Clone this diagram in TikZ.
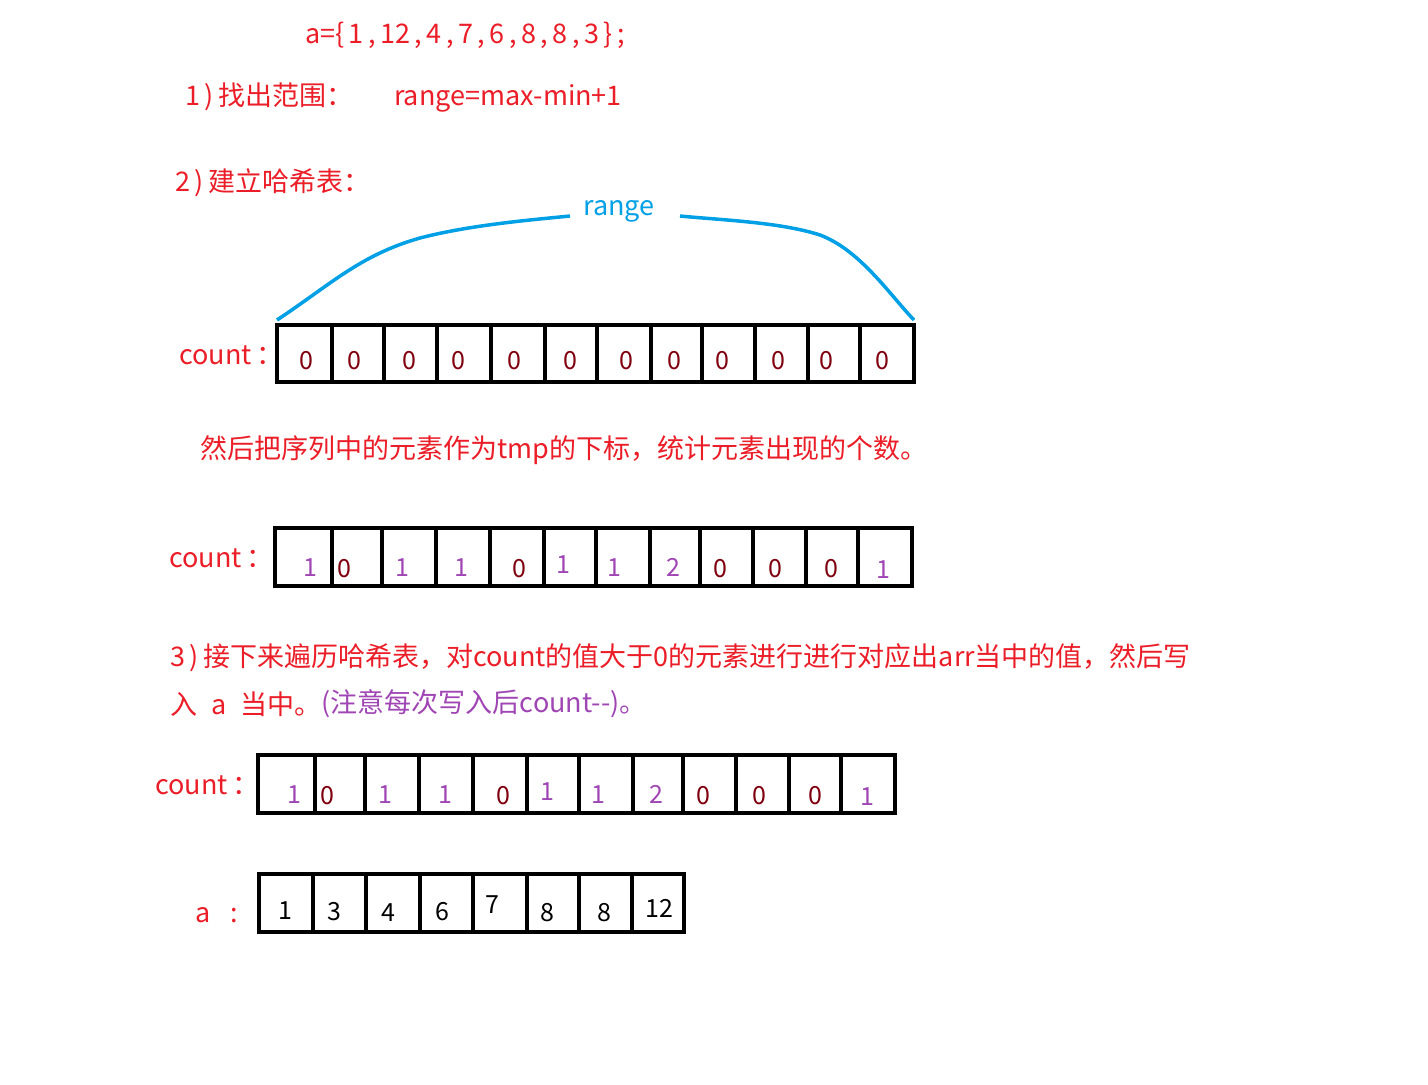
\documentclass[tikz,border=0pt]{standalone}
\usepackage{fontspec}
\setmainfont{Noto Sans CJK SC}
\begin{document}
\begin{tikzpicture}[x=1pt,y=-1pt,
  every node/.style={inner sep=0pt,font=\fontsize{25}{28}\selectfont},
  tx/.style={font=\fontsize{27}{30}\selectfont},
  red/.style={text={rgb,255:red,235;green,30;blue,40}},
  dr/.style={text={rgb,255:red,128;green,0;blue,16}},
  pu/.style={text={rgb,255:red,160;green,70;blue,180}},
  cellbox/.style={draw=black,line width=3.4pt}]
\useasboundingbox[fill=white] (0,0) rectangle (1428,1085);
\definecolor{rng}{RGB}{0,160,230}
% texts
\node[red,tx,anchor=west] (t0) at (305,35) {a=\{\,1\,,\,12\,,\,4\,,\,7\,,\,6\,,\,8\,,\,8\,,\,3\,\}\,;};
\node[red,tx,anchor=west] (t1) at (185,97) {1\,)\,找出范围：};
\node[red,tx,anchor=west] (t1b) at (394,98) {range=max-min+1};
\node[red,tx,anchor=west] (t2) at (175,183) {2\,)\,建立哈希表：};
\node[red,tx,anchor=west] (c1) at (179,355) {count\,：};
\node[red,tx,anchor=west] (t3) at (200,450) {然后把序列中的元素作为tmp的下标，统计元素出现的个数。};
\node[red,tx,anchor=west] (c2) at (169,558) {count\,：};
\node[red,tx,anchor=west] (t4) at (170,658) {3\,)\,接下来遍历哈希表，对count的值大于0的元素进行进行对应出arr当中的值，然后写};
\node[red,tx,anchor=west] (t5) at (170,704) {入\hspace{14pt}a\hspace{14pt}当中。};
\node[pu,tx,anchor=west] (t5b) at (t5.east) {(注意每次写入后count{-}{-})。};
\node[red,tx,anchor=west] (c3) at (155,785) {count\,：};
\node[red,tx,anchor=west] (c4) at (195,915) {a\hspace{20pt}:};
% range brace
\node[text=rng,tx] (rg) at (619,211) {range};
\draw[rng,line width=3.5pt] (277,320) .. controls (330,285) and (360,255) .. (420,238) .. controls (470,225) and (530,220) .. (570,216);
\draw[rng,line width=3.5pt] (680,216) .. controls (720,220) and (780,222) .. (820,235) .. controls (860,250) and (890,295) .. (914,320);
% row 1
\foreach \a/\b [count=\i] in {277/332,332/384,384/437,437/491,491/545,545/597,597/651,651/702,702/755,755/808,808/860,860/914}
  \draw[cellbox] (\a,325) rectangle (\b,382) coordinate (ra\i);
\foreach \x [count=\i] in {306,354,409,458,514,570,626,674,722,778,826,882}
  \node[dr] (va\i) at (\x,361) {0};
% row 2
\foreach \a/\b [count=\i] in {275/332,332/382,382/436,436/490,490/544,544/596,596/650,650/700,700/753,753/806,806/858,858/912}
  \draw[cellbox] (\a,528) rectangle (\b,586) coordinate (rb\i);
\foreach \x/\v/\s/\y [count=\i] in {310/1/pu/568,344/0/dr/569,402/1/pu/568,461/1/pu/568,519/0/dr/569,563/1/pu/565,614/1/pu/568,673/2/pu/567,720/0/dr/569,775/0/dr/569,831/0/dr/569,883/1/pu/570}
  \node[\s] (vb\i) at (\x,\y) {\v};
% row 3
\foreach \a/\b [count=\i] in {258/315,315/365,365/419,419/473,473/527,527/579,579/633,633/683,683/736,736/789,789/841,841/895}
  \draw[cellbox] (\a,755) rectangle (\b,813) coordinate (rc\i);
\foreach \x/\v/\s/\y [count=\i] in {294/1/pu/795,327/0/dr/796,385/1/pu/795,445/1/pu/795,503/0/dr/796,547/1/pu/792,598/1/pu/795,656/2/pu/794,703/0/dr/796,759/0/dr/796,815/0/dr/796,867/1/pu/797}
  \node[\s] (vc\i) at (\x,\y) {\v};
% row 4
\foreach \a/\b [count=\i] in {259/313,313/366,366/420,420/473,473/527,527/579,579/632,632/684}
  \draw[cellbox] (\a,874) rectangle (\b,932) coordinate (rd\i);
\foreach \x/\v/\y [count=\i] in {285/1/911,334/3/912,388/4/913,442/6/912,492/7/905,547/8/913,604/8/913,659/12/908}
  \node[text=black] (vd\i) at (\x,\y) {\v};
\end{tikzpicture}
\end{document}
